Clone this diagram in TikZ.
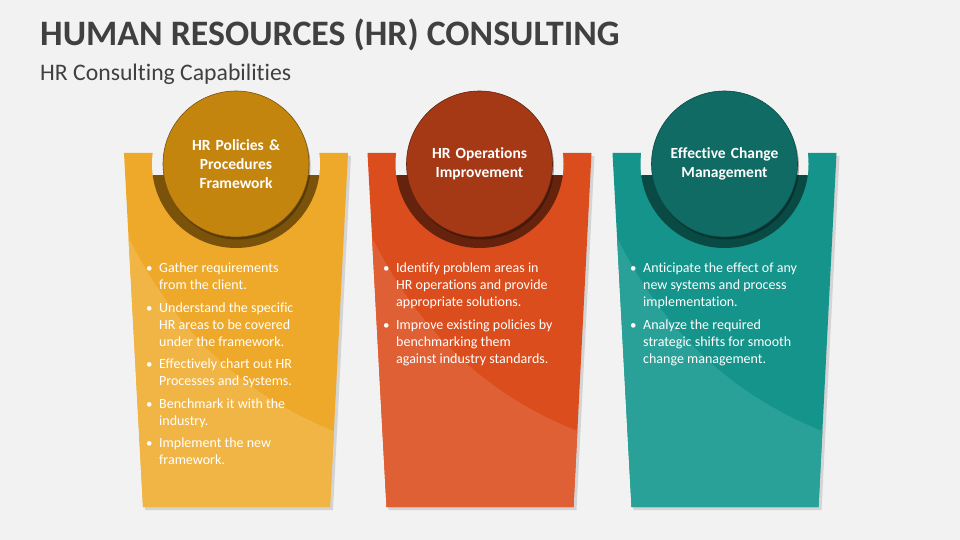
\documentclass[tikz,border=0pt]{standalone}
\usepackage{fontspec}
\setmainfont{Carlito}[Ligatures=NoCommon]
\definecolor{bg}{HTML}{F2F2F2}
\definecolor{titlegray}{HTML}{404040}
\definecolor{goldMain}{HTML}{EEA92A}
\definecolor{goldLight}{HTML}{F1B546}
\definecolor{goldCirc}{HTML}{C4850F}
\definecolor{goldDark}{HTML}{7A520A}
\definecolor{redMain}{HTML}{DB4D1C}
\definecolor{redLight}{HTML}{DF6035}
\definecolor{redCirc}{HTML}{A53815}
\definecolor{redDark}{HTML}{65230D}
\definecolor{tealMain}{HTML}{14948A}
\definecolor{tealLight}{HTML}{2AA198}
\definecolor{tealCirc}{HTML}{0F6B63}
\definecolor{tealDark}{HTML}{0A4A44}
\newcommand\drawcard[7]{%
  \fill[black, opacity=.12] (#2-110,156) -- (#2+115,156) -- (#2+97,510) -- (#2-91,510) -- cycle;
  \path[fill=#3] (#2-112,153) -- (#2+112,153) -- (#2+94,507) -- (#2-93,507) -- cycle;
  \begin{scope}
    \clip (#2-112,153) -- (#2+112,153) -- (#2+94,507) -- (#2-93,507) -- cycle;
    \fill[#4] (#2-126,198) -- (#2-112,228) .. controls (#2-65,328) and (#2+6,396) .. (#2+103,433)
      -- (#2+140,445) -- (#2+140,520) -- (#2-140,520) -- cycle;
  \end{scope}
  \begin{scope}
    \clip (#2-100,153) rectangle (#2+100,176);
    \fill[bg] (#2,164) circle (84);
  \end{scope}
  \begin{scope}
    \clip (#2-100,176) rectangle (#2+100,260);
    \fill[#6] (#2,164) circle (84);
  \end{scope}
  \fill[black, opacity=.3] (#2+1.5,166.5) circle (73);
  \node[headcirc, fill=#5, draw=#6] (#1) at (#2,164) {#7};
}
% #1 name, #2 text x, #3 first baseline, #4 number of lines, #5 text
\newcommand\bitem[5]{%
  \node[bul] (#1b) at (#2-13,#3) {\textbullet};
  \node[bodytext] (#1) at (#2,{#3+17*(#4-1)}) {#5};
}
\begin{document}
\begin{tikzpicture}[x=1pt,y=-1pt,
  bodytext/.style={text=white, font=\fontsize{14}{17}\selectfont, align=left, anchor=base west, inner sep=0pt},
  bul/.style={text=white, font=\fontsize{13}{17}\selectfont, anchor=base west, inner sep=0pt},
  headcirc/.style={circle, minimum size=146pt, inner sep=0pt, line width=.6pt, text=white,
    font=\bfseries\fontsize{15.5}{19}\selectfont, align=center, text width=130pt}]
\useasboundingbox[fill=bg] (0,0) rectangle (960,540);
\node[anchor=base west, inner sep=0pt, text=titlegray, font=\bfseries\fontsize{35.8}{36}\selectfont] (title) at (40,46) {HUMAN RESOURCES (HR) CONSULTING};
\node[anchor=base west, inner sep=0pt, text=titlegray, font=\fontsize{23.7}{24}\selectfont] (subtitle) at (40,81) {HR Consulting Capabilities};

\drawcard{c1}{236}{goldMain}{goldLight}{goldCirc}{goldDark}{HR Policies \&\\Procedures\\Framework}
\drawcard{c2}{479.5}{redMain}{redLight}{redCirc}{redDark}{HR Operations\\Improvement}
\drawcard{c3}{724.5}{tealMain}{tealLight}{tealCirc}{tealDark}{Effective Change\\Management}

\bitem{a1}{159}{272}{2}{Gather requirements\\from the client.}
\bitem{a2}{159}{312}{3}{Understand the specific\\HR areas to be covered\\under the framework.}
\bitem{a3}{159}{368}{2}{Effectively chart out HR\\Processes and Systems.}
\bitem{a4}{159}{408}{2}{Benchmark it with the\\industry.}
\bitem{a5}{159}{447}{2}{Implement the new\\framework.}

\bitem{b1}{396}{272}{3}{Identify problem areas in\\HR operations and provide\\appropriate solutions.}
\bitem{b2}{396}{329}{3}{Improve existing policies by\\benchmarking them\\against industry standards.}

\bitem{d1}{643}{272}{3}{Anticipate the effect of any\\new systems and process\\implementation.}
\bitem{d2}{643}{329}{3}{Analyze the required\\strategic shifts for smooth\\change management.}
\end{tikzpicture}
\end{document}
